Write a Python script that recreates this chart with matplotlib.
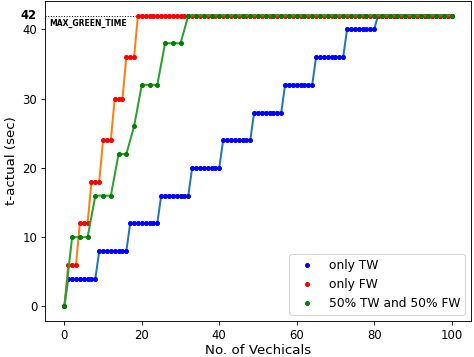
import matplotlib
matplotlib.use("Agg")
import matplotlib.pyplot as plt
import numpy as np

# vehicles counted one by one for TW / FW, every second vehicle for the mix
x_tw = list(range(0, 101))
y_tw = ([0] + [4] * 8 + [8] * 8 + [12] * 8 + [16] * 8 + [20] * 8 + [24] * 8
        + [28] * 8 + [32] * 8 + [36] * 8 + [40] * 8 + [42] * 20)

x_fw = list(range(0, 101))
y_fw = [0] + [6] * 3 + [12] * 3 + [18] * 3 + [24] * 3 + [30] * 3 + [36] * 3 + [42] * 82

x_mix = list(range(0, 101, 2))
y_mix = ([0, 10, 10, 10, 16, 16, 16, 22, 22, 26, 32, 32, 32, 38, 38, 38]
         + [42] * 35)

max_green_time = 42

plt.rcParams["font.size"] = 10.5
plt.rcParams["lines.linewidth"] = 1.8
plt.rcParams["lines.markersize"] = 7

fig = plt.figure(figsize=(474 / 80, 357 / 80), dpi=80)
ax = fig.add_axes([45 / 474, 36 / 357, 426 / 474, 320 / 357])

ax.hlines(max_green_time, -5, 19, colors="k", linestyles="dotted", linewidth=0.9)

ax.plot(x_tw, y_tw)
ax.plot(x_tw, y_tw, ".", color="b", label="only TW")
ax.plot(x_fw, y_fw)
ax.plot(x_fw, y_fw, ".", color="r", label="only FW")
ax.plot(x_mix, y_mix)
ax.plot(x_mix, y_mix, ".", color="g", label="50% TW and 50% FW")

ax.text(-4, 41.55, "MAX_GREEN_TIME", fontsize=6.9, fontweight="bold", va="top")
ax.annotate("42", xy=(0, max_green_time), xycoords=("axes fraction", "data"),
            xytext=(-8, 0), textcoords="offset points", ha="right", va="center",
            fontweight="bold")

ax.set_xlim(-5, 105)
ax.set_ylim(-2.1, 44.1)
ax.set_xticks([0, 20, 40, 60, 80, 100])
ax.set_yticks([0, 10, 20, 30, 40])
ax.set_xlabel("No. of Vechicals", fontsize=12, labelpad=2)
ax.set_ylabel("t-actual (sec)", fontsize=12)
ax.legend(loc="lower right", fontsize=11)

fig.savefig("out.png", dpi=80)
